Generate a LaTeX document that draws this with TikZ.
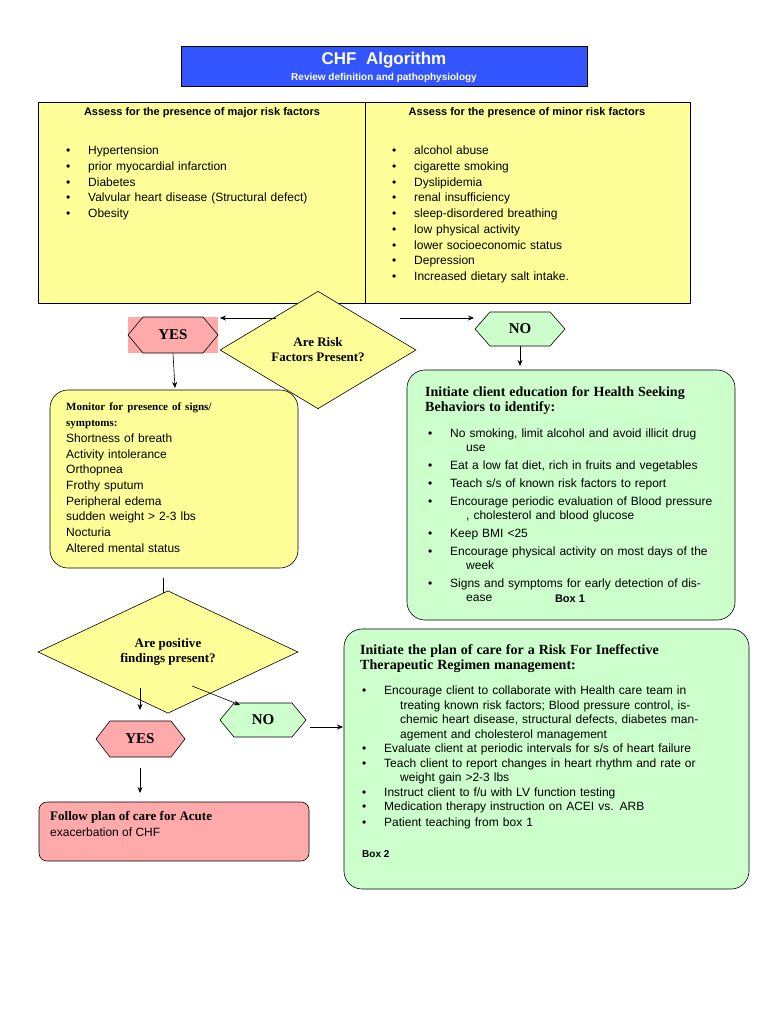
\documentclass[tikz,border=0pt]{standalone}
\usepackage{fontspec}
\setmainfont{Liberation Sans}
\newfontfamily\serifb{Liberation Serif}
\usetikzlibrary{shapes.geometric,arrows.meta}
\definecolor{ylw}{HTML}{FFFF99}
\definecolor{grn}{HTML}{CCFFCC}
\definecolor{pnk}{HTML}{FFAAAA}
\definecolor{blu}{HTML}{3355FF}
\newcommand{\bl}[1]{\par\noindent\hangindent=38pt\hbox to 22pt{\textbullet\hfil}#1}
\newcommand{\blb}[1]{\par\noindent\hangindent=38pt\hbox to 22pt{\textbullet\hfil}#1\par\vspace{4pt}}
\begin{document}
\begin{tikzpicture}[x=1pt,y=-1pt,
  txt/.style={font=\fontsize{12}{15.7}\selectfont,align=left,inner sep=0pt,anchor=north west},
  box/.style={draw=black,line width=0.6pt},
  rbox/.style={draw=black,line width=0.6pt,rounded corners=18pt},
  hex/.style={draw=black,line width=0.6pt,regular polygon,regular polygon sides=6,minimum size=10pt},
  ar/.style={-{Stealth[length=6pt,width=5pt]},line width=0.6pt},
  dia/.style={draw=black,line width=0.6pt,diamond,fill=ylw,inner sep=0pt,align=center,font=\serifb\bfseries\fontsize{13}{15}\selectfont}]
\useasboundingbox (0,0) rectangle (768,1024);
\fill[white] (0,0) rectangle (768,1024);
% title
\node[box,fill=blu,minimum width=406pt,minimum height=40pt,anchor=north west,inner sep=0pt] (title) at (181,46) {};
\node[text=white,font=\bfseries\fontsize{17}{18}\selectfont] (t1) at (384,60) {CHF\ \ Algorithm};
\node[text=white,font=\bfseries\fontsize{10}{12}\selectfont] (t2) at (384,78) {Review definition and pathophysiology};
% risk factors box
\draw[box,fill=ylw] (38,102) rectangle (690,303);
\draw[line width=0.6pt] (365,102) -- (365,303);
\node[font=\bfseries\fontsize{11}{13}\selectfont] (h1) at (202,113) {Assess for the presence of major risk factors};
\node[font=\bfseries\fontsize{11}{13}\selectfont] (h2) at (527,113) {Assess for the presence of minor risk factors};
\node[txt,text width=280pt] (maj) at (66,139) {\bl{Hypertension}\bl{prior myocardial infarction}\bl{Diabetes}\bl{Valvular heart disease (Structural defect)}\bl{Obesity}};
\node[txt,text width=280pt] (min) at (392,139) {\bl{alcohol abuse}\bl{cigarette smoking}\bl{Dyslipidemia}\bl{renal insufficiency}\bl{sleep-disordered breathing}\bl{low physical activity}\bl{lower socioeconomic status}\bl{Depression}\bl{Increased dietary salt intake.}};
% diamond 1
\node[dia,minimum width=196pt,minimum height=88pt] (d1) at (318,350) {Are Risk\\Factors Present?};
\node[hex,fill=pnk,minimum width=90pt,minimum height=36pt,shape=rectangle,draw=none] (yes1) at (173,335) {};
\draw[line width=0.6pt,fill=pnk] (128,335)--(143,317)--(203,317)--(218,335)--(203,353)--(143,353)--cycle;
\node[font=\serifb\bfseries\fontsize{15}{16}\selectfont] at (173,335) {YES};
\node[minimum width=90pt,minimum height=34pt] (no1) at (520,329) {};
\draw[line width=0.6pt,fill=grn] (475,329)--(490,312)--(550,312)--(565,329)--(550,346)--(490,346)--cycle;
\node[font=\serifb\bfseries\fontsize{15}{16}\selectfont] at (520,329) {NO};
\coordinate (a1) at (276,318); \coordinate (a1e) at (220,318);
\coordinate (a2) at (400,318); \coordinate (a2e) at (474,318);
\draw[ar] (a1) -- (a1e);
\draw[ar] (a2) -- (a2e);
\draw[ar] (no1.south) -- (520,366);
\draw[ar] (yes1.south) -- (175,388);
% monitor box
\draw[rbox,fill=ylw] (50,390) rectangle (298,568);
\node[txt,text width=230pt] (mon) at (66,403) {{\serifb\bfseries\fontsize{11}{13}\selectfont Monitor for presence of signs/\\symptoms:}\\Shortness of breath\\Activity intolerance\\Orthopnea\\Frothy sputum\\Peripheral edema\\sudden weight > 2-3 lbs\\Nocturia\\Altered mental status};
% box 1
\draw[rbox,fill=grn] (407,370) rectangle (735,620);
\node[txt,text width=310pt] (b1h) at (425,386) {{\serifb\bfseries\fontsize{14}{18}\selectfont Initiate client education for Health Seeking\\Behaviors to identify:}};
\node[txt,text width=290pt] (b1) at (428,423) {\fontsize{12}{14}\selectfont\blb{No smoking, limit alcohol and avoid illicit drug use}\blb{Eat a low fat diet, rich in fruits and vegetables}\blb{Teach s/s of known risk factors to report}\blb{Encourage periodic evaluation of Blood pressure , cholesterol and blood glucose}\blb{Keep BMI <25}\blb{Encourage physical activity on most days of the week}\blb{Signs and symptoms for early detection of disease}};
\node[font=\bfseries\fontsize{11}{13}\selectfont] at (570,599) {Box 1};
% diamond 2
\draw[ar] (163,578) -- (163,605);
\node[dia,minimum width=260pt,minimum height=82pt] (d2) at (168,652) {Are positive\\findings present?};
\node[minimum width=86pt,minimum height=34pt] (no2) at (263,720) {};
\draw[line width=0.6pt,fill=grn] (220,720)--(234,703)--(292,703)--(306,720)--(292,737)--(234,737)--cycle;
\node[font=\serifb\bfseries\fontsize{15}{16}\selectfont] at (263,720) {NO};
\node[minimum width=89pt,minimum height=36pt] (yes2) at (140,739) {};
\draw[line width=0.6pt,fill=pnk] (96,739)--(110,721)--(171,721)--(185,739)--(171,757)--(110,757)--cycle;
\node[font=\serifb\bfseries\fontsize{15}{16}\selectfont] at (140,739) {YES};
\draw[ar] (140,688) -- (140,710);
\draw[ar] (192,686) -- (240,705);
\draw[ar] (310,727) -- (343,727);
\draw[ar] (140,768) -- (140,793);
% acute box
\draw[rbox,rounded corners=8pt,fill=pnk] (39,802) rectangle (309,861);
\node[txt] (ac) at (50,811) {\serifb\bfseries\fontsize{13}{20}\selectfont Follow plan of care for Acute\\exacerbation of CHF};
% box 2
\draw[rbox,fill=grn] (344,629) rectangle (749,889);
\node[txt,text width=390pt] (b2h) at (360,644) {{\serifb\bfseries\fontsize{14}{18}\selectfont Initiate the plan of care for a Risk For Ineffective\\Therapeutic Regimen management:}};
\node[txt,text width=340pt] (b2) at (362,680) {\fontsize{12}{14.5}\selectfont\bl{Encourage client to collaborate with Health care team in treating known risk factors; Blood pressure control, ischemic heart disease, structural defects, diabetes management and cholesterol management}\bl{Evaluate client at periodic intervals for s/s of heart failure}\bl{Teach client to report changes in heart rhythm and rate or weight gain >2-3 lbs}\bl{Instruct client to f/u with LV function testing}\bl{Medication therapy instruction on ACEI vs. ARB}\bl{Patient teaching from box 1}};
\node[txt,font=\bfseries\fontsize{10}{12}\selectfont] at (362,850) {Box 2};
\end{tikzpicture}
\end{document}
